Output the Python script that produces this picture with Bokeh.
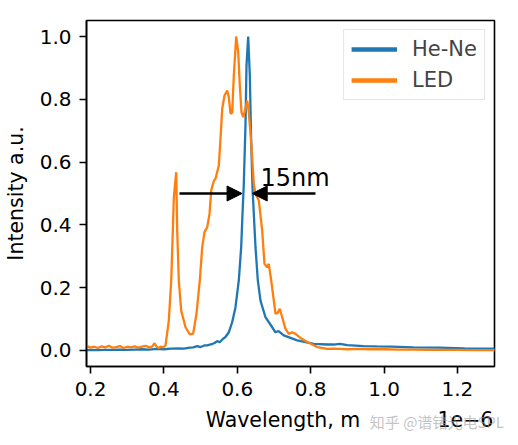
from bokeh.plotting import figure
from bokeh.models import (Range1d, FixedTicker, PrintfTickFormatter, Label,
                          Arrow, NormalHead, Legend, LegendItem, LinearAxis)
from bokeh.embed import file_html
from bokeh.resources import INLINE

# wavelength in units of 1e-6 m
led_x = [0.180, 0.190, 0.200, 0.210, 0.220, 0.230, 0.240, 0.250, 0.260, 0.270,
         0.280, 0.290, 0.300, 0.310, 0.320, 0.330, 0.340, 0.350, 0.360, 0.368,
         0.3744, 0.380, 0.386, 0.3907, 0.398, 0.4044, 0.4134, 0.4199, 0.4243, 0.4270,
         0.4335, 0.4362, 0.4406, 0.4471, 0.4589, 0.4706, 0.4798, 0.4888, 0.4978, 0.5044,
         0.5106, 0.5180, 0.5243, 0.5289, 0.5360, 0.5406, 0.5496, 0.5542, 0.5589, 0.5651,
         0.5725, 0.5768, 0.5815, 0.5861, 0.5905, 0.5970, 0.6025, 0.6068, 0.6114, 0.6161,
         0.6223, 0.6270, 0.6313, 0.6379, 0.6450, 0.6496, 0.6586, 0.6678, 0.6741, 0.6815,
         0.6858, 0.6924, 0.6995, 0.7041, 0.7104, 0.7158, 0.7224, 0.7313, 0.7403, 0.7496,
         0.7586, 0.7722, 0.7905, 0.8177, 0.8450, 0.860, 0.880, 0.900, 0.930, 0.960,
         1.000, 1.040, 1.080, 1.120, 1.160, 1.200, 1.250, 1.310]
led_y = [0.010, 0.014, 0.009, 0.012, 0.008, 0.013, 0.010, 0.015, 0.009, 0.011,
         0.014, 0.008, 0.012, 0.010, 0.013, 0.009, 0.012, 0.015, 0.010, 0.012,
         0.023, 0.012, 0.008, 0.012, 0.010, 0.016, 0.096, 0.223, 0.382, 0.488,
         0.568, 0.382, 0.223, 0.127, 0.074, 0.051, 0.054, 0.117, 0.223, 0.329,
         0.377, 0.393, 0.435, 0.510, 0.540, 0.547, 0.589, 0.674, 0.770, 0.812,
         0.828, 0.807, 0.754, 0.758, 0.876, 1.000, 0.950, 0.844, 0.759, 0.743,
         0.770, 0.796, 0.759, 0.663, 0.530, 0.499, 0.478, 0.382, 0.276, 0.265,
         0.276, 0.223, 0.159, 0.117, 0.120, 0.133, 0.106, 0.069, 0.053, 0.058,
         0.053, 0.040, 0.027, 0.011, 0.005, 0.006, 0.005, 0.004, 0.005, 0.004,
         0.004, 0.003, 0.003, 0.002, 0.002, 0.002, 0.001, 0.001]

hene_x = [0.180, 0.200, 0.220, 0.240, 0.260, 0.280, 0.300, 0.320, 0.340, 0.360,
          0.380, 0.400, 0.420, 0.440, 0.455, 0.470, 0.480, 0.4907, 0.500, 0.510,
          0.5180, 0.530, 0.538, 0.5452, 0.552, 0.560, 0.5678, 0.5768, 0.5861, 0.5951,
          0.6041, 0.6106, 0.6142, 0.6177, 0.6223, 0.6251, 0.6297, 0.6341, 0.6379, 0.6414,
          0.6450, 0.6496, 0.6559, 0.6632, 0.6768, 0.6951, 0.7041, 0.7123, 0.7267, 0.7632,
          0.8084, 0.8450, 0.862, 0.880, 0.900, 0.944, 0.980, 1.020, 1.080, 1.150,
          1.220, 1.298, 1.310]
hene_y = [0.001, 0.002, 0.001, 0.002, 0.002, 0.003, 0.002, 0.003, 0.004, 0.003,
          0.005, 0.004, 0.006, 0.007, 0.006, 0.009, 0.010, 0.014, 0.011, 0.016,
          0.016, 0.020, 0.024, 0.030, 0.026, 0.036, 0.043, 0.058, 0.090, 0.138,
          0.223, 0.329, 0.435, 0.530, 0.717, 0.908, 1.000, 0.876, 0.663, 0.520,
          0.435, 0.329, 0.223, 0.159, 0.106, 0.074, 0.058, 0.062, 0.048, 0.032,
          0.021, 0.019, 0.019, 0.021, 0.017, 0.014, 0.013, 0.012, 0.010, 0.009,
          0.007, 0.006, 0.006]

x_ticks = [0.2, 0.4, 0.6, 0.8, 1.0, 1.2]
y_ticks = [0.0, 0.2, 0.4, 0.6, 0.8, 1.0]
series_names = ["He-Ne", "LED"]
colors = ["#1f77b4", "#ff7f0e"]
x_label = "Wavelength, m"
offset_label = "1e\u22126"
watermark = "知乎 @谱锗光电SPL"

FONT = "DejaVu Sans"

p = figure(frame_width=408, frame_height=346,
           x_range=Range1d(0.189, 1.301), y_range=Range1d(-0.051, 1.051),
           output_backend="svg", toolbar_location=None,
           min_border_left=86, min_border_right=24,
           min_border_top=20, min_border_bottom=60)

p.grid.visible = False
p.outline_line_color = "black"
p.outline_line_width = 1.6
p.background_fill_color = "white"
p.border_fill_color = "white"

for ax in (p.xaxis[0], p.yaxis[0]):
    ax.axis_line_color = "black"
    ax.axis_line_width = 1.6
    ax.major_tick_line_color = "black"
    ax.major_tick_line_width = 1.6
    ax.major_tick_out = 7
    ax.major_tick_in = 0
    ax.minor_tick_line_color = None
    ax.major_label_text_font = FONT
    ax.major_label_text_font_size = "20px"
    ax.major_label_text_color = "black"
    ax.axis_label_text_font = FONT
    ax.axis_label_text_font_size = "20.5px"
    ax.axis_label_text_font_style = "normal"
    ax.axis_label_text_color = "black"
    ax.formatter = PrintfTickFormatter(format="%.1f")

p.xaxis[0].ticker = FixedTicker(ticks=x_ticks)
p.yaxis[0].ticker = FixedTicker(ticks=y_ticks)
p.yaxis[0].axis_label = "Intensity a.u."
p.xaxis[0].major_label_standoff = 8
p.yaxis[0].major_label_standoff = 8
p.yaxis[0].axis_label_standoff = 9


def text_row(positions, overrides, standoff, font, size, color, alpha):
    ax = LinearAxis(ticker=FixedTicker(ticks=positions),
                    major_label_overrides=overrides)
    ax.axis_line_color = None
    ax.major_tick_line_color = None
    ax.major_tick_out = 0
    ax.major_tick_in = 0
    ax.minor_tick_line_color = None
    ax.major_label_standoff = standoff
    ax.major_label_text_font = font
    ax.major_label_text_font_size = size
    ax.major_label_text_color = color
    ax.major_label_text_alpha = alpha
    p.add_layout(ax, "below")
    return ax


# second row under the x axis: axis label and offset text on one line
label_pos = [0.7245, 1.2218]
text_row(label_pos, {label_pos[0]: x_label, label_pos[1]: offset_label},
         9, FONT, "20.5px", "black", 1.0)

# faint watermark, sharing that line
wm_pos = [1.1441]
text_row(wm_pos, {wm_pos[0]: watermark}, -24, "Noto Sans CJK SC", "15px",
         "#9a9a9a", 0.6)

r_hene = p.line(hene_x, hene_y, line_color=colors[0], line_width=2.3)
r_led = p.line(led_x, led_y, line_color=colors[1], line_width=2.3)

# legend proxies (thicker lines as in reference)
lg_hene = p.line([0.0], [0.0], line_color=colors[0], line_width=4.5)
lg_led = p.line([0.0], [0.0], line_color=colors[1], line_width=4.5)

legend = Legend(items=[LegendItem(label=series_names[0], renderers=[lg_hene]),
                       LegendItem(label=series_names[1], renderers=[lg_led])],
                location="top_right")
legend.margin = 9
legend.padding = 7
legend.spacing = 7
legend.glyph_width = 46
legend.glyph_height = 24
legend.label_height = 24
legend.label_standoff = 15
legend.label_text_font = FONT
legend.label_text_font_size = "21px"
legend.border_line_color = "#cccccc"
legend.border_line_width = 1.5
legend.background_fill_alpha = 0.8
p.add_layout(legend)

# arrows marking 15 nm
p.add_layout(Arrow(end=NormalHead(size=15, fill_color="black", line_color="black"),
                   x_start=0.4425, y_start=0.5, x_end=0.613, y_end=0.5,
                   line_color="black", line_width=2.5))
p.add_layout(Arrow(end=NormalHead(size=15, fill_color="black", line_color="black"),
                   x_start=0.813, y_start=0.5, x_end=0.6406, y_end=0.5,
                   line_color="black", line_width=2.5))

p.add_layout(Label(x=0.6632, y=0.548, text="15nm", text_font=FONT,
                   text_font_size="24px", text_color="black",
                   text_baseline="alphabetic"))

open("out.html", "w").write(file_html(p, INLINE))
